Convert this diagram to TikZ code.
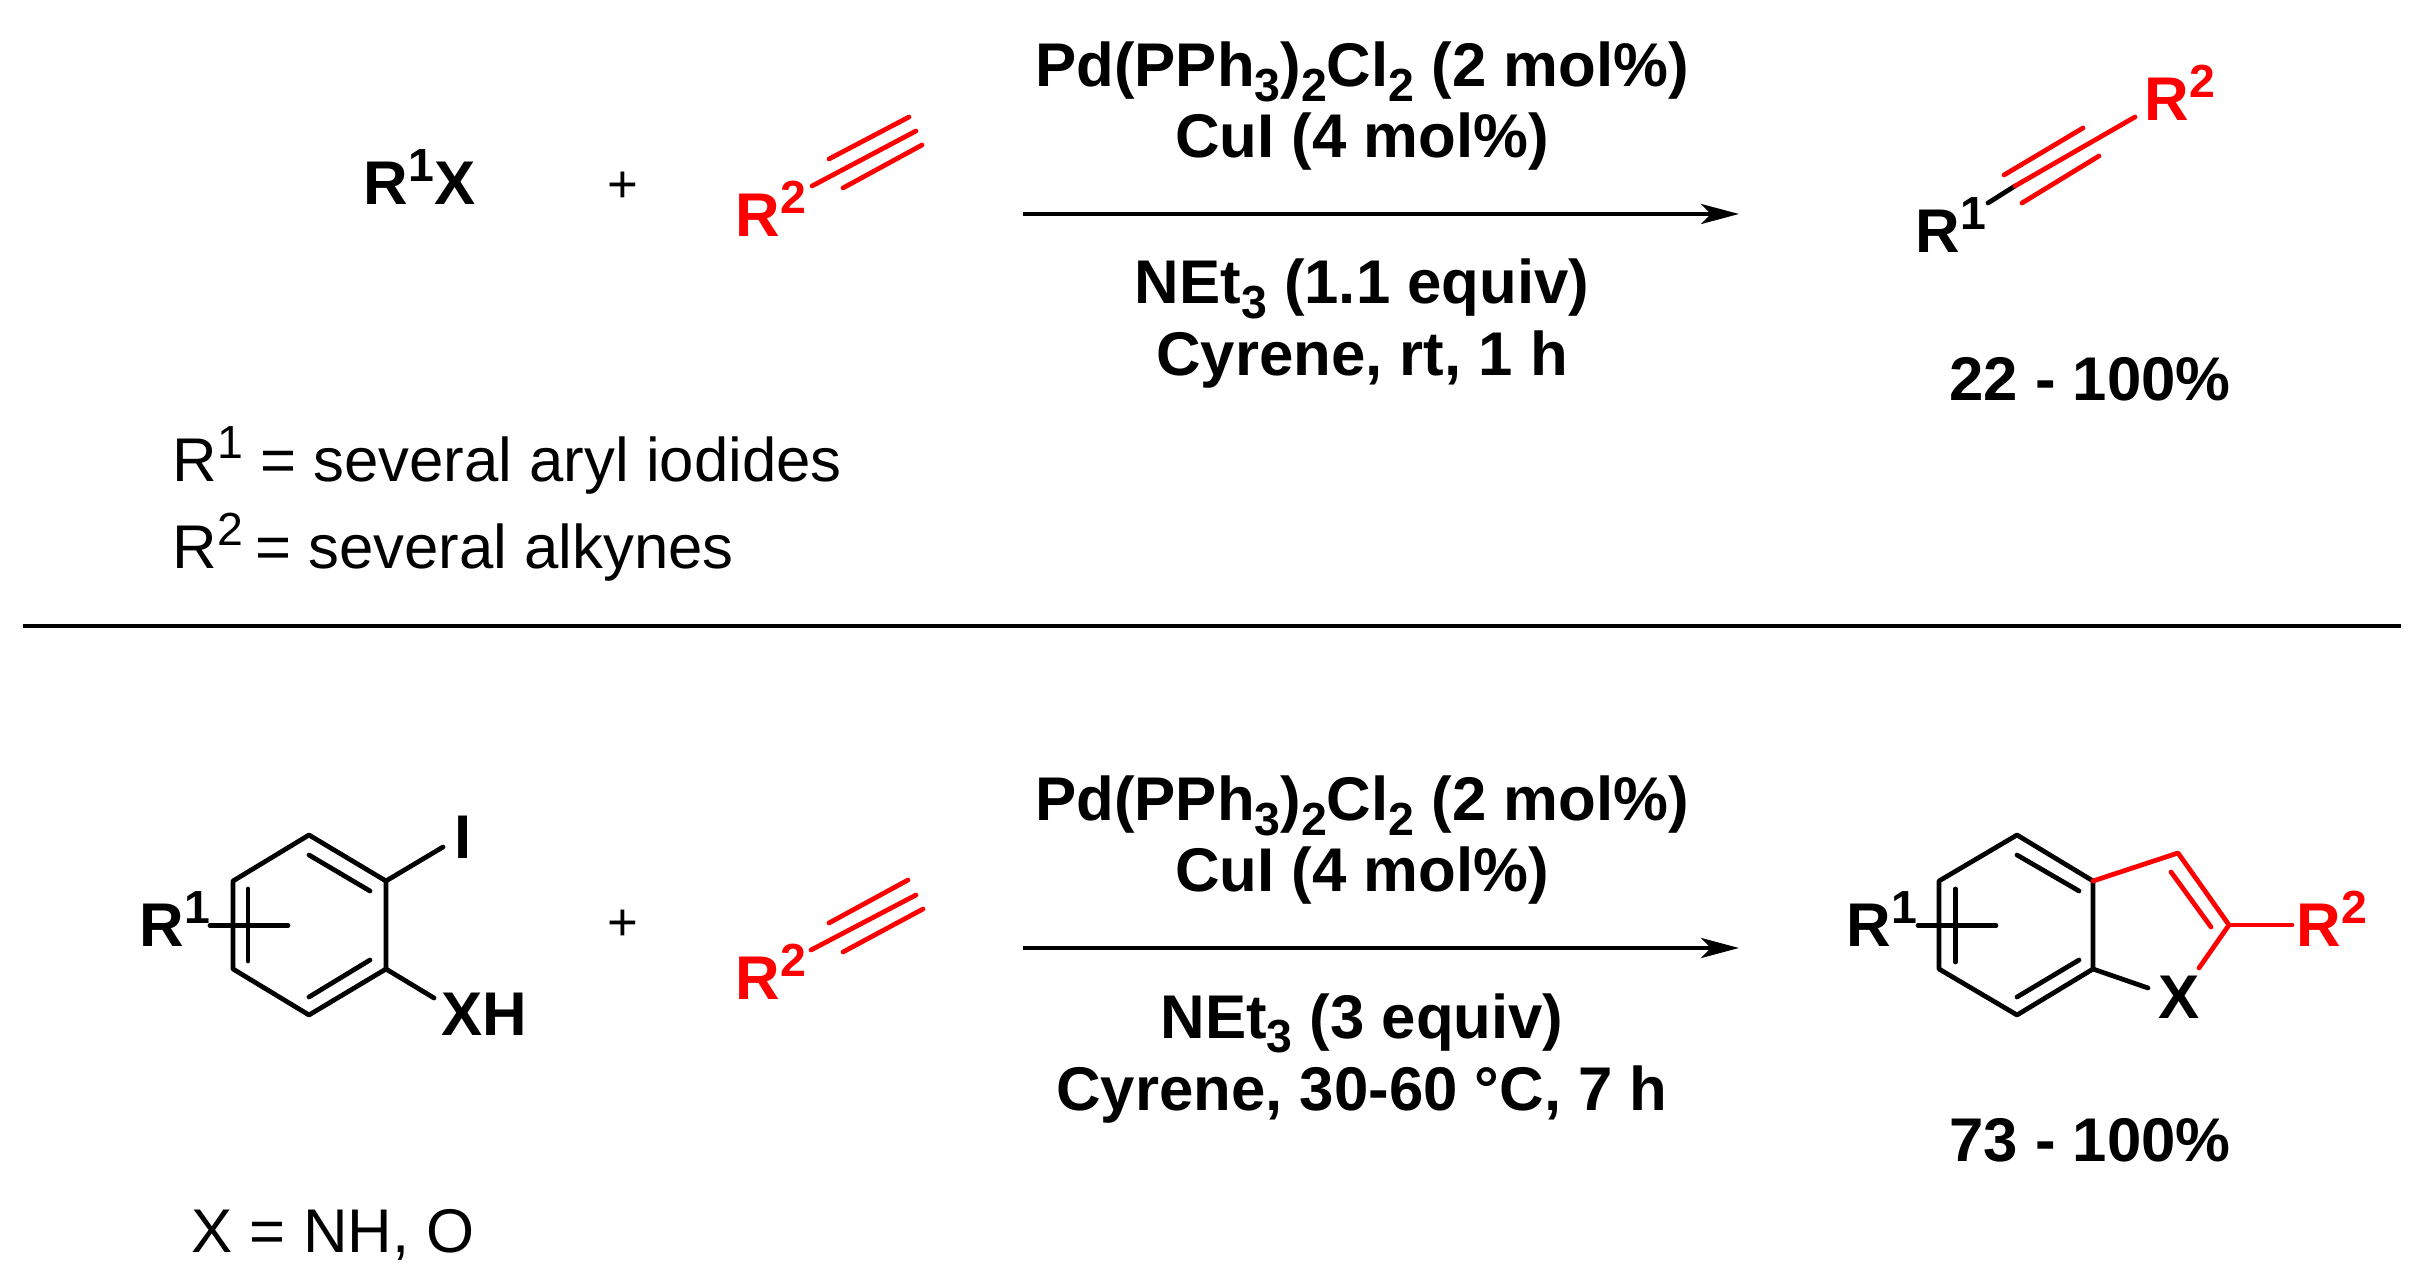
\documentclass[tikz,border=0pt]{standalone}
\usepackage{fontspec}
\setmainfont{Liberation Sans}
\usetikzlibrary{arrows.meta}
\definecolor{rgroup}{RGB}{255,0,0}
\newcommand{\sps}[1]{\raisebox{0.38em}{\fontsize{13.2}{13.2}\selectfont #1}}
\newcommand{\sbs}[1]{\raisebox{-0.23em}{\fontsize{13.2}{13.2}\selectfont #1}}
\tikzset{
	bond/.style={line width=1.35pt,line cap=round,line join=round},
	redbond/.style={bond,draw=rgroup},
	reactarrow/.style={line width=1.35pt,-{Stealth[length=0.38cm,width=0.2cm,inset=0.1cm]}},
	atom/.style={inner sep=0pt,anchor=base west,font=\fontsize{17.55}{20}\selectfont\bfseries},
	redatom/.style={atom,text=rgroup},
	cond/.style={inner sep=0pt,anchor=base,font=\fontsize{17.55}{20}\selectfont\bfseries},
	note/.style={inner sep=0pt,anchor=base west,font=\fontsize{17.55}{20}\selectfont},
	plussign/.style={inner sep=0pt,font=\fontsize{15}{15}\selectfont}
}
\begin{document}
\begin{tikzpicture}[x=0.01cm,y=-0.01cm]
	\useasboundingbox (0,0) rectangle (2424,1283);
	
	% Top reaction: reactants
	\node[atom] (rxhalide) at (363,205) {R\sps{1}X};
	\node[plussign] (plusa) at (623,187) {+};
	\node[redatom] (rtwoa) at (735,237) {R\sps{2}};
	\coordinate (alkaa) at (812,186);
	\coordinate (alkab) at (916,131);
	\coordinate (alkac) at (829,159);
	\coordinate (alkad) at (909,117);
	\coordinate (alkae) at (843,188);
	\coordinate (alkaf) at (922,145);
	\draw[redbond] (alkaa) -- (alkab);
	\draw[redbond] (alkac) -- (alkad);
	\draw[redbond] (alkae) -- (alkaf);
	
	% Top reaction: arrow and conditions
	\coordinate (arrowastart) at (1023,214);
	\coordinate (arrowaend) at (1739,214);
	\draw[reactarrow] (arrowastart) -- (arrowaend);
	\node[cond] (conda) at (1362,87) {Pd(PPh\sbs{3})\sbs{2}Cl\sbs{2} (2 mol\%)};
	\node[cond] (condb) at (1362,158) {CuI (4 mol\%)};
	\node[cond] (condc) at (1362,304) {NEt\sbs{3} (1.1 equiv)};
	\node[cond] (condd) at (1362,376) {Cyrene, rt, 1 h};
	
	% Top reaction: product
	\node[atom] (rone) at (1915,253) {R\sps{1}};
	\node[redatom] (rtwob) at (2144,121) {R\sps{2}};
	\coordinate (proda) at (1988,203);
	\coordinate (prodb) at (2015,186);
	\coordinate (prodc) at (2135,117);
	\coordinate (prodd) at (2004,175);
	\coordinate (prode) at (2083,128);
	\coordinate (prodf) at (2022,203);
	\coordinate (prodg) at (2099,156);
	\draw[bond] (proda) -- (prodb);
	\draw[redbond] (prodb) -- (prodc);
	\draw[redbond] (prodd) -- (prode);
	\draw[redbond] (prodf) -- (prodg);
	\node[cond] (yielda) at (2090,401) {22 - 100\%};
	
	% Notes and separator
	\node[note] (notea) at (172,482) {R\sps{1} = several aryl iodides};
	\node[note] (noteb) at (172,569) {R\sps{2}\kern-0.08em{} = several alkynes};
	\coordinate (sepa) at (23,626);
	\coordinate (sepb) at (2401,626);
	\draw[bond,line cap=butt] (sepa) -- (sepb);
	
	% Bottom reaction: iodoarene
	\coordinate (ia) at (309,835);
	\coordinate (ib) at (386,881);
	\coordinate (ic) at (386,969);
	\coordinate (id) at (309,1015);
	\coordinate (ie) at (233,969);
	\coordinate (if) at (233,881);
	\draw[bond] (ia) -- (ib) -- (ic) -- (id) -- (ie) -- (if) -- cycle;
	\coordinate (iinnera) at (309,855);
	\coordinate (iinnerb) at (370,891);
	\coordinate (iinnerc) at (370,960);
	\coordinate (iinnerd) at (309,997);
	\coordinate (iinnere) at (248,889);
	\coordinate (iinnerf) at (248,961);
	\draw[bond] (iinnera) -- (iinnerb);
	\draw[bond] (iinnerc) -- (iinnerd);
	\draw[bond] (iinnere) -- (iinnerf);
	\coordinate (ibonda) at (443,847);
	\coordinate (ibondb) at (434,998);
	\draw[bond] (ib) -- (ibonda);
	\draw[bond] (ic) -- (ibondb);
	\node[atom] (iodo) at (454,859) {I};
	\node[atom] (xh) at (441,1036) {XH};
	\node[atom] (ronec) at (139,947) {R\sps{1}};
	\coordinate (isuba) at (210,925.5);
	\coordinate (isubb) at (288,925.5);
	\draw[bond] (isuba) -- (isubb);
	\node[plussign] (plusb) at (623,925) {+};
	
	% Bottom reaction: alkyne
	\node[redatom] (rtwoc) at (735,1000) {R\sps{2}};
	\coordinate (alkba) at (811,950);
	\coordinate (alkbb) at (916,895);
	\coordinate (alkbc) at (829,923);
	\coordinate (alkbd) at (908,880);
	\coordinate (alkbe) at (843,952);
	\coordinate (alkbf) at (923,909);
	\draw[redbond] (alkba) -- (alkbb);
	\draw[redbond] (alkbc) -- (alkbd);
	\draw[redbond] (alkbe) -- (alkbf);
	
	% Bottom reaction: arrow and conditions
	\coordinate (arrowbstart) at (1023,948);
	\coordinate (arrowbend) at (1739,948);
	\draw[reactarrow] (arrowbstart) -- (arrowbend);
	\node[cond] (conde) at (1362,821) {Pd(PPh\sbs{3})\sbs{2}Cl\sbs{2} (2 mol\%)};
	\node[cond] (condf) at (1362,892) {CuI (4 mol\%)};
	\node[cond] (condg) at (1362,1038) {NEt\sbs{3} (3 equiv)};
	\node[cond] (condh) at (1362,1110) {Cyrene, 30-60 °C, 7 h};
	
	% Bottom reaction: benzofused product
	\coordinate (pa) at (2017,835);
	\coordinate (pb) at (2093,881);
	\coordinate (pc) at (2093,969);
	\coordinate (pd) at (2017,1015);
	\coordinate (pe) at (1939,969);
	\coordinate (pf) at (1939,881);
	\draw[bond] (pa) -- (pb) -- (pc) -- (pd) -- (pe) -- (pf) -- cycle;
	\coordinate (pinnera) at (2017,855);
	\coordinate (pinnerb) at (2079,891);
	\coordinate (pinnerc) at (2079,960);
	\coordinate (pinnerd) at (2017,997);
	\coordinate (pinnere) at (1955.5,889);
	\coordinate (pinnerf) at (1955.5,962);
	\draw[bond] (pinnera) -- (pinnerb);
	\draw[bond] (pinnerc) -- (pinnerd);
	\draw[bond] (pinnere) -- (pinnerf);
	\node[atom] (roned) at (1846,947) {R\sps{1}};
	\coordinate (psuba) at (1918,925.5);
	\coordinate (psubb) at (1996,925.5);
	\draw[bond] (psuba) -- (psubb);
	\node[atom] (xring) at (2158,1019) {X};
	\coordinate (xbonda) at (2148,988);
	\draw[bond] (pc) -- (xbonda);
	\coordinate (fivea) at (2178,853);
	\coordinate (fiveb) at (2229,925);
	\coordinate (fivec) at (2171,872);
	\coordinate (fived) at (2211,927);
	\coordinate (fivee) at (2199,968);
	\coordinate (fivef) at (2292,925);
	\draw[redbond] (pb) -- (fivea) -- (fiveb) -- (fivee);
	\draw[redbond] (fivec) -- (fived);
	\draw[redbond] (fiveb) -- (fivef);
	\node[redatom] (rtwod) at (2296,947) {R\sps{2}};
	\node[cond] (yieldb) at (2090,1161) {73 - 100\%};
	\node[note] (notec) at (191,1252) {X = NH, O};
	
\end{tikzpicture}
\end{document}
